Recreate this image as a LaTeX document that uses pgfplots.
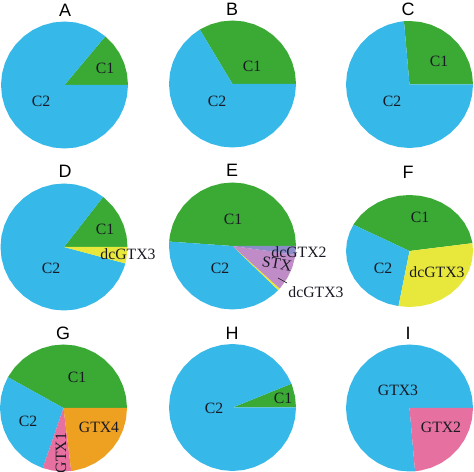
\documentclass[border=0pt]{standalone}
\usepackage{pgfplots}
\pgfplotsset{compat=1.18}
\usepackage{fontspec}
\setmainfont{Liberation Serif}
\newfontfamily\sansttl{Liberation Sans}
\definecolor{cblue}{RGB}{54,184,232}
\definecolor{cgreen}{RGB}{58,170,53}
\definecolor{cyellow}{RGB}{232,232,60}
\definecolor{corange}{RGB}{238,160,32}
\definecolor{cpink}{RGB}{230,112,160}
\definecolor{cstx}{RGB}{192,140,200}
\definecolor{cdctwo}{RGB}{140,140,200}
\definecolor{ctext}{RGB}{25,25,35}
\newcommand\lblfont{\fontsize{15.8}{17}\selectfont}
\newcommand\ttlfont{\sansttl\fontsize{18}{20}\selectfont}
\pgfplotsset{
  piestyle/.style={scale only axis, width=127bp, height=127bp,
    xmin=-1, xmax=1, ymin=-1, ymax=1, hide axis, clip=false, anchor=center,
    every axis plot/.append style={data cs=polar, draw=none, mark=none}},
}
\begin{document}
\begin{tikzpicture}
\useasboundingbox (0bp,0bp) rectangle (474bp,472bp);
% ---- A ---- (angles in degrees: C1 0-50)
\begin{axis}[piestyle, at={(64.5bp,387bp)}]
\addplot[fill=cgreen] coordinates {(0,0) (0,1) (10,1) (20,1) (30,1) (40,1) (50,1)};
\addplot[fill=cblue] coordinates {(0,0) (50,1) (60,1) (70,1) (80,1) (90,1) (100,1) (110,1) (120,1) (130,1) (140,1) (150,1) (160,1) (170,1) (180,1) (190,1) (200,1) (210,1) (220,1) (230,1) (240,1) (250,1) (260,1) (270,1) (280,1) (290,1) (300,1) (310,1) (320,1) (330,1) (340,1) (350,1) (360,1)};
\end{axis}
% ---- B ---- (C1 0-121)
\begin{axis}[piestyle, at={(232.5bp,388bp)}]
\addplot[fill=cgreen] coordinates {(0,0) (0,1) (10,1) (20,1) (30,1) (40,1) (50,1) (60,1) (70,1) (80,1) (90,1) (100,1) (110,1) (120,1) (121,1)};
\addplot[fill=cblue] coordinates {(0,0) (121,1) (130,1) (140,1) (150,1) (160,1) (170,1) (180,1) (190,1) (200,1) (210,1) (220,1) (230,1) (240,1) (250,1) (260,1) (270,1) (280,1) (290,1) (300,1) (310,1) (320,1) (330,1) (340,1) (350,1) (360,1)};
\end{axis}
% ---- C ---- (C1 0-95)
\begin{axis}[piestyle, at={(409.5bp,387.5bp)}]
\addplot[fill=cgreen] coordinates {(0,0) (0,1) (10,1) (20,1) (30,1) (40,1) (50,1) (60,1) (70,1) (80,1) (90,1) (95,1)};
\addplot[fill=cblue] coordinates {(0,0) (95,1) (100,1) (110,1) (120,1) (130,1) (140,1) (150,1) (160,1) (170,1) (180,1) (190,1) (200,1) (210,1) (220,1) (230,1) (240,1) (250,1) (260,1) (270,1) (280,1) (290,1) (300,1) (310,1) (320,1) (330,1) (340,1) (350,1) (360,1)};
\end{axis}
% ---- D ---- (C1 0-52, C2 52-345, dcGTX3 345-360)
\begin{axis}[piestyle, at={(64bp,225bp)}]
\addplot[fill=cgreen] coordinates {(0,0) (0,1) (10,1) (20,1) (30,1) (40,1) (50,1) (52,1)};
\addplot[fill=cblue] coordinates {(0,0) (52,1) (60,1) (70,1) (80,1) (90,1) (100,1) (110,1) (120,1) (130,1) (140,1) (150,1) (160,1) (170,1) (180,1) (190,1) (200,1) (210,1) (220,1) (230,1) (240,1) (250,1) (260,1) (270,1) (280,1) (290,1) (300,1) (310,1) (320,1) (330,1) (340,1) (345,1)};
\addplot[fill=cyellow] coordinates {(0,0) (345,1) (350,1) (360,1)};
\end{axis}
% ---- E ---- (C1 0-176, C2 176-316, dcGTX3 316-318, STX 318-352, dcGTX2 352-360)
\begin{axis}[piestyle, at={(232.5bp,226bp)}]
\addplot[fill=cgreen] coordinates {(0,0) (0,1) (10,1) (20,1) (30,1) (40,1) (50,1) (60,1) (70,1) (80,1) (90,1) (100,1) (110,1) (120,1) (130,1) (140,1) (150,1) (160,1) (170,1) (176,1)};
\addplot[fill=cblue] coordinates {(0,0) (176,1) (180,1) (190,1) (200,1) (210,1) (220,1) (230,1) (240,1) (250,1) (260,1) (270,1) (280,1) (290,1) (300,1) (310,1) (316,1)};
\addplot[fill=cyellow] coordinates {(0,0) (316,1) (318,1)};
\addplot[fill=cstx] coordinates {(0,0) (318,1) (320,1) (330,1) (340,1) (350,1) (352,1)};
\addplot[fill=cdctwo] coordinates {(0,0) (352,1) (360,1)};
\end{axis}
% ---- F ---- (C1 8-152, C2 152-260, dcGTX3 260-368)
\begin{axis}[piestyle, height=112bp, at={(409.5bp,221bp)}]
\addplot[fill=cgreen] coordinates {(0,0) (8,1) (10,1) (20,1) (30,1) (40,1) (50,1) (60,1) (70,1) (80,1) (90,1) (100,1) (110,1) (120,1) (130,1) (140,1) (150,1) (152,1)};
\addplot[fill=cblue] coordinates {(0,0) (152,1) (160,1) (170,1) (180,1) (190,1) (200,1) (210,1) (220,1) (230,1) (240,1) (250,1) (260,1)};
\addplot[fill=cyellow] coordinates {(0,0) (260,1) (270,1) (280,1) (290,1) (300,1) (310,1) (320,1) (330,1) (340,1) (350,1) (360,1) (368,1)};
\end{axis}
% ---- G ---- (C1 0-151, C2 151-251, GTX1 251-277, GTX4 277-360)
\begin{axis}[piestyle, at={(63.5bp,64bp)}]
\addplot[fill=cgreen] coordinates {(0,0) (0,1) (10,1) (20,1) (30,1) (40,1) (50,1) (60,1) (70,1) (80,1) (90,1) (100,1) (110,1) (120,1) (130,1) (140,1) (150,1) (151,1)};
\addplot[fill=cblue] coordinates {(0,0) (151,1) (160,1) (170,1) (180,1) (190,1) (200,1) (210,1) (220,1) (230,1) (240,1) (250,1) (251,1)};
\addplot[fill=cpink] coordinates {(0,0) (251,1) (260,1) (270,1) (277,1)};
\addplot[fill=corange] coordinates {(0,0) (277,1) (280,1) (290,1) (300,1) (310,1) (320,1) (330,1) (340,1) (350,1) (360,1)};
\end{axis}
% ---- H ---- (C1 0-22)
\begin{axis}[piestyle, at={(232.5bp,64.5bp)}]
\addplot[fill=cgreen] coordinates {(0,0) (0,1) (10,1) (20,1) (22,1)};
\addplot[fill=cblue] coordinates {(0,0) (22,1) (30,1) (40,1) (50,1) (60,1) (70,1) (80,1) (90,1) (100,1) (110,1) (120,1) (130,1) (140,1) (150,1) (160,1) (170,1) (180,1) (190,1) (200,1) (210,1) (220,1) (230,1) (240,1) (250,1) (260,1) (270,1) (280,1) (290,1) (300,1) (310,1) (320,1) (330,1) (340,1) (350,1) (360,1)};
\end{axis}
% ---- I ---- (GTX3 0-275, GTX2 275-360)
\begin{axis}[piestyle, at={(409.5bp,64bp)}]
\addplot[fill=cblue] coordinates {(0,0) (0,1) (10,1) (20,1) (30,1) (40,1) (50,1) (60,1) (70,1) (80,1) (90,1) (100,1) (110,1) (120,1) (130,1) (140,1) (150,1) (160,1) (170,1) (180,1) (190,1) (200,1) (210,1) (220,1) (230,1) (240,1) (250,1) (260,1) (270,1) (275,1)};
\addplot[fill=cpink] coordinates {(0,0) (275,1) (280,1) (290,1) (300,1) (310,1) (320,1) (330,1) (340,1) (350,1) (360,1)};
\end{axis}
\begin{scope}[x=1bp,y=1bp]
% ---- titles ----
\begin{scope}[every node/.style={font=\ttlfont, text=black, inner sep=0pt}]
\node at (65,462) {A};
\node at (232,463) {B};
\node at (408,463) {C};
\node at (65,301) {D};
\node at (232,302) {E};
\node at (408,300) {F};
\node at (63,139) {G};
\node at (232,139) {H};
\node at (408,139) {I};
\end{scope}
% ---- slice labels ----
\begin{scope}[every node/.style={font=\lblfont, text=ctext, inner sep=0pt}]
\node at (105,404) {C1};
\node at (41,371) {C2};
\node at (252,406) {C1};
\node at (217,371) {C2};
\node at (439,411) {C1};
\node at (392,371) {C2};
\node at (105,243) {C1};
\node at (128,218) {dcGTX3};
\node at (51,204) {C2};
\node at (233,253) {C1};
\node at (220,204) {C2};
\node at (299,220) {dcGTX2};
\node[rotate=-10] at (277,208) {STX};
\node at (316,180) {dcGTX3};
\node at (420,255) {C1};
\node at (383,204) {C2};
\node at (437,200) {dcGTX3};
\node at (77,95) {C1};
\node at (28,51) {C2};
\node at (99,45) {GTX4};
\node[rotate=90] at (61,19) {GTX1};
\node at (283,74) {C1};
\node at (214,64) {C2};
\node at (398,82) {GTX3};
\node at (441,45) {GTX2};
\end{scope}
\draw[ctext, line width=0.6bp] (278,194) -- (287,189);
\end{scope}
\end{tikzpicture}
\end{document}
